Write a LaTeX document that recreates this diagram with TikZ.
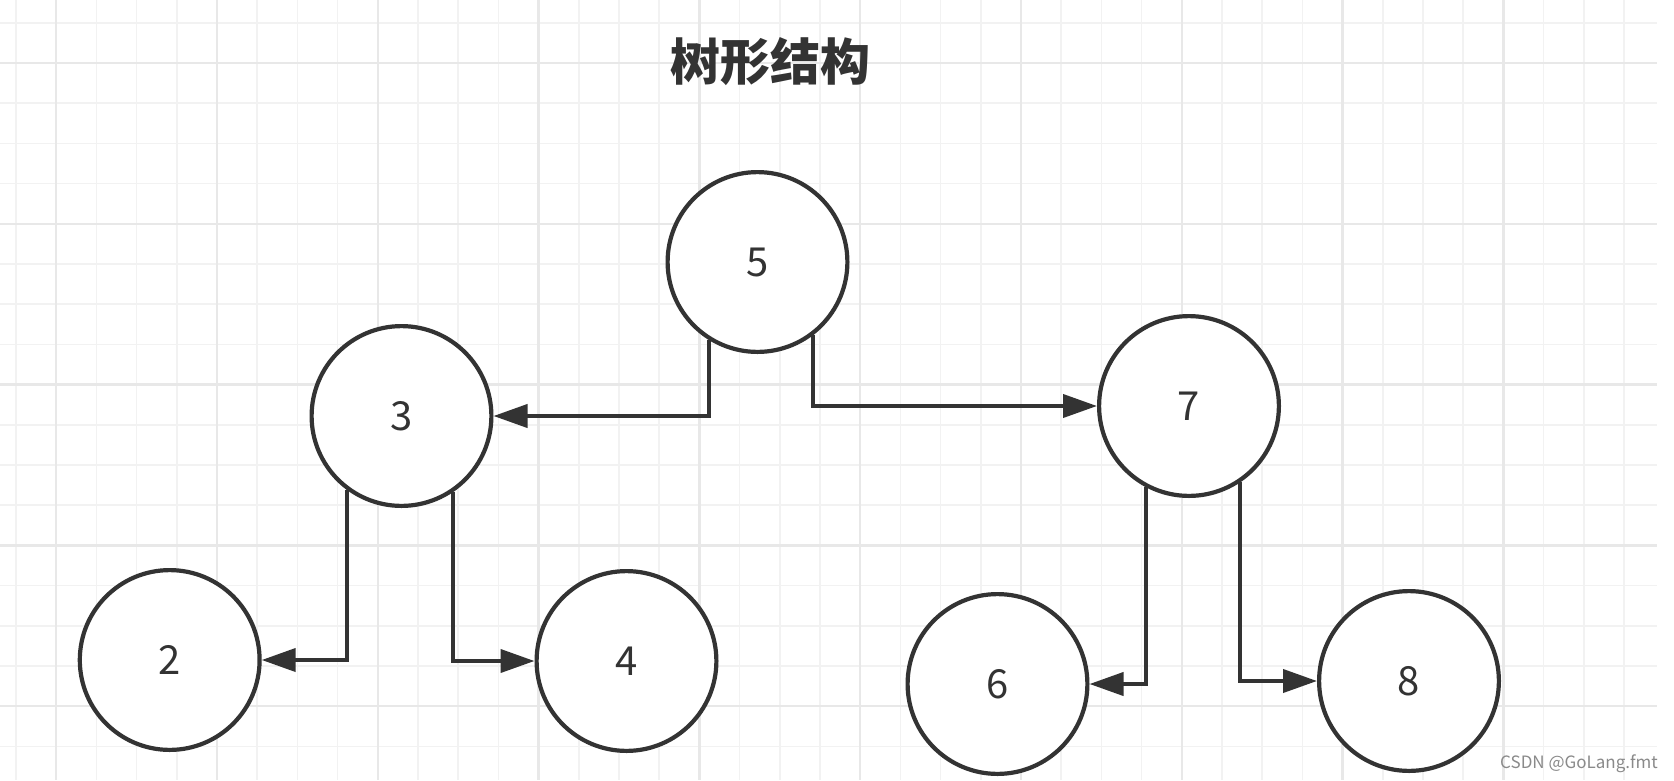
\documentclass[tikz,border=0pt]{standalone}
\usepackage{fontspec}
\newfontfamily\cjk{Noto Sans CJK SC}
\usetikzlibrary{arrows.meta}
\definecolor{ink}{HTML}{333333}
\definecolor{gridminor}{HTML}{F2F2F2}
\definecolor{gridmajor}{HTML}{E8E8E8}
\definecolor{wmgray}{HTML}{8A8A8A}
\begin{document}
\begin{tikzpicture}[x=1pt,y=-1pt,
  treenode/.style={circle,draw=ink,line width=4.2pt,fill=white,minimum size=179.8pt,inner sep=0pt,
    font=\cjk\fontsize{40}{40}\selectfont,text=ink},
  link/.style={draw=ink,line width=4pt,-{Triangle[length=34pt,width=23pt]}},
  gminor/.style={draw=gridminor,line width=1.6pt},
  gmajor/.style={draw=gridmajor,line width=2.4pt},
]
\useasboundingbox (0,0) rectangle (1674,780);
\fill[white] (0,0) rectangle (1674,780);
% grid
\foreach \k in {0,...,40} \draw[gminor] ({16+40.2*\k},0) -- ({16+40.2*\k},780);
\foreach \k in {0,...,18} \draw[gminor] (0,{22.7+40.2*\k}) -- (1657,{22.7+40.2*\k});
\foreach \k in {1,5,...,37} \draw[gmajor] ({16+40.2*\k},0) -- ({16+40.2*\k},780);
\foreach \k in {1,5,9,13,17} \draw[gmajor] (0,{22.7+40.2*\k}) -- (1657,{22.7+40.2*\k});
% title
\node[font=\cjk\bfseries\fontsize{50}{50}\selectfont,text=ink,anchor=base] (title) at (770.5,80.5) {树形结构};
% nodes
\node[treenode] (n5) at (757.5,262) {5};
\node[treenode] (n3) at (401.5,416) {3};
\node[treenode] (n2) at (169.7,660) {2};
\node[treenode] (n4) at (626.5,661) {4};
\node[treenode] (n7) at (1189,406) {7};
\node[treenode] (n6) at (997.5,684) {6};
\node[treenode] (n8) at (1409,681) {8};
% connectors
\draw[link] (n5.-122.5) |- (n3);
\draw[link] (n5.-53.3) |- (n7);
\draw[link] (n3.-126.9) |- (n2);
\draw[link] (n3.-56.2) |- (n4);
\draw[link] (n7.-118.7) |- (n6);
\draw[link] (n7.-56.9) |- (n8);
% watermark
\node[font=\cjk\fontsize{17}{17}\selectfont,text=wmgray,anchor=base east,inner sep=0pt] (wm) at (1658,768) {CSDN @GoLang.fmt};
\end{tikzpicture}
\end{document}
